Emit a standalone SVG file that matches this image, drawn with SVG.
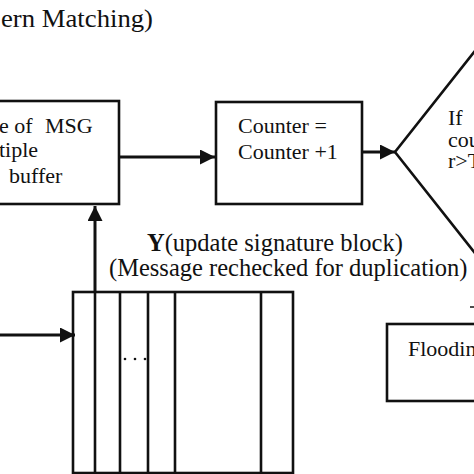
<svg xmlns="http://www.w3.org/2000/svg" width="474" height="474" viewBox="0 0 474 474">
<style>
text{font-family:"Liberation Serif","Times New Roman",serif;fill:#111;}
.t22{font-size:22px;}
.t24{font-size:24.5px;}
.box{fill:#fff;stroke:#111;stroke-width:2.6;}
.ln{fill:none;stroke:#111;stroke-width:2.6;}
.con{fill:none;stroke:#111;stroke-width:3;}
</style>
<defs>
<marker id="ah" markerUnits="userSpaceOnUse" markerWidth="16" markerHeight="16" refX="15" refY="7.5" orient="auto">
<path d="M0,0 L15,7.5 L0,15 Z" fill="#111"/>
</marker>
</defs>
<rect width="474" height="474" fill="#fff"/>
<text class="t24" x="1" y="27" textLength="152" lengthAdjust="spacingAndGlyphs" style="font-size:26px">ern Matching)</text>

<g id="store-box">
<rect class="box" x="-10" y="101" width="129" height="103"/>
<text class="t22" x="-1" y="133">e of</text>
<text class="t22" x="45" y="133">MSG</text>
<text class="t22" x="-1" y="157">tiple</text>
<text class="t22" x="9" y="183">buffer</text>
</g>

<g id="counter-box">
<rect class="box" x="216" y="102" width="146" height="102"/>
<text class="t22" x="238" y="133">Counter =</text>
<text class="t22" x="238" y="159">Counter +1</text>
</g>

<g id="decision">
<polyline class="ln" points="482,42 395,152 482,262"/>
<text class="t22" x="448" y="125">If</text>
<text class="t22" x="448" y="147">cou</text>
<text class="t22" x="448" y="168">r&gt;T</text>
</g>

<g id="flooding-box">
<rect class="box" x="387" y="324" width="100" height="77"/>
<text class="t22" x="408" y="356">Floodin</text>
</g>

<g id="buffer">
<rect class="box" x="73" y="292" width="220" height="181"/>
<line class="ln" x1="95" y1="292" x2="95" y2="474"/>
<line class="ln" x1="120" y1="292" x2="120" y2="474"/>
<line class="ln" x1="148" y1="292" x2="148" y2="474"/>
<line class="ln" x1="175" y1="292" x2="175" y2="474"/>
<line class="ln" x1="261" y1="292" x2="261" y2="474"/>
<circle cx="125" cy="359" r="1.3" fill="#111"/>
<circle cx="135" cy="359" r="1.3" fill="#111"/>
<circle cx="145" cy="359" r="1.3" fill="#111"/>
</g>

<g id="label-y">
<text class="t24" x="147" y="251"><tspan font-weight="bold">Y</tspan>(update signature block)</text>
<text class="t24" x="109" y="276">(Message rechecked for duplication)</text>
</g>

<g id="connectors">
<line class="con" x1="119" y1="157" x2="215" y2="157" marker-end="url(#ah)"/>
<line class="con" x1="362" y1="152" x2="395" y2="152" marker-end="url(#ah)"/>
<line class="con" x1="95" y1="292" x2="95" y2="206" marker-end="url(#ah)"/>
<line class="con" x1="0" y1="335" x2="75" y2="335" marker-end="url(#ah)"/>
<line class="ln" x1="470" y1="307" x2="474" y2="307" style="stroke-width:1.5"/>
</g>
</svg>
